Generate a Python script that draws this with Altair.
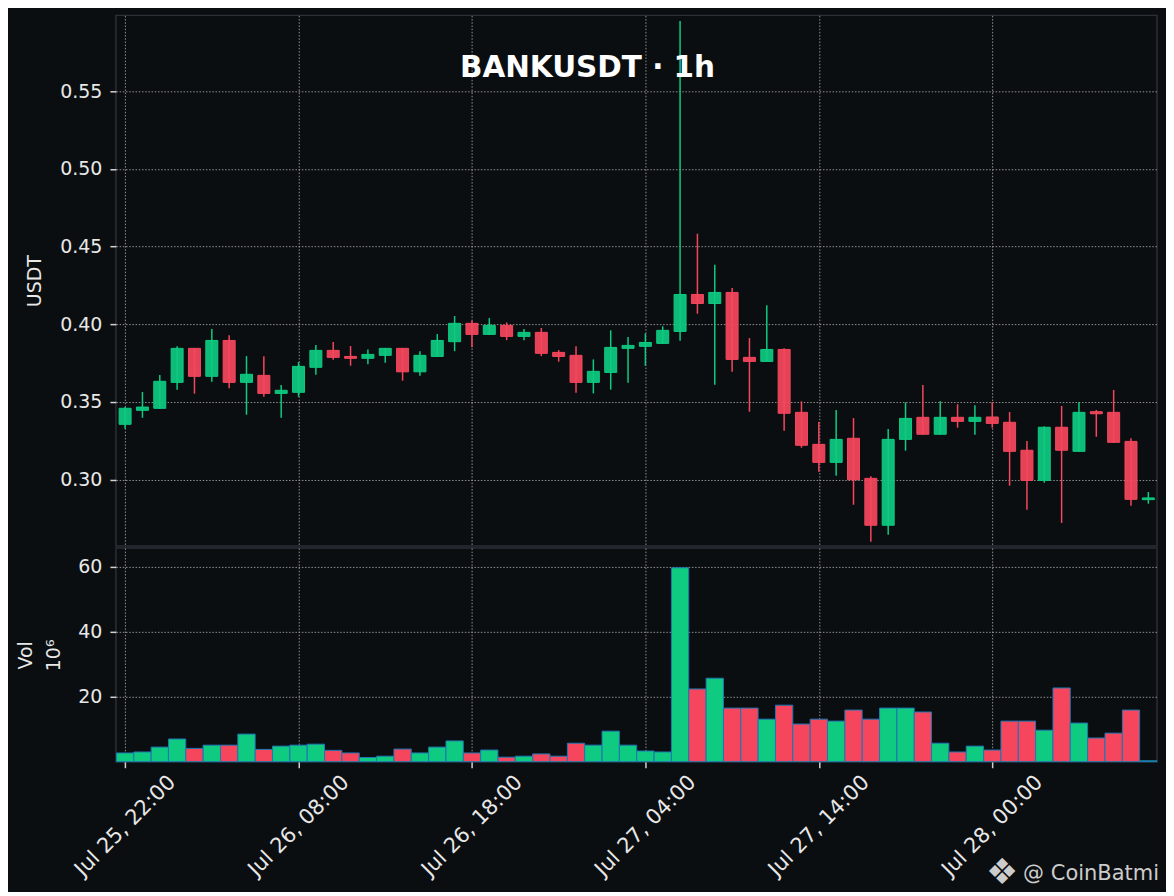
import altair as alt
import pandas as pd

TITLE = "BANKUSDT · 1h"
START = "2025-07-25 22:00"
TICK_LABEL_TIMES = ["2025-07-25 22:00", "2025-07-26 08:00", "2025-07-26 18:00",
                    "2025-07-27 04:00", "2025-07-27 14:00", "2025-07-28 00:00"]
PRICE_TICKS = [0.30, 0.35, 0.40, 0.45, 0.50, 0.55]
VOL_TICKS = [20, 40, 60]

opens = [0.3356, 0.3446, 0.3459, 0.3626, 0.3845, 0.3665, 0.3896, 0.3626, 0.3671, 0.3555,
         0.3562, 0.3723, 0.3832, 0.3793, 0.3781, 0.3800, 0.3845, 0.3694, 0.3793, 0.3888,
         0.4006, 0.3935, 0.3993, 0.3922, 0.3948, 0.3819, 0.3800, 0.3626, 0.3690, 0.3845,
         0.3858, 0.3877, 0.3954, 0.4192, 0.4134, 0.4205, 0.3787, 0.3761, 0.3838, 0.3433,
         0.3227, 0.3111, 0.3266, 0.3008, 0.2706, 0.3259, 0.3401, 0.3292, 0.3401, 0.3375,
         0.3403, 0.3369, 0.3189, 0.2995, 0.3337, 0.3182, 0.3437, 0.3433, 0.3246, 0.2871]
closes = [0.3459, 0.3467, 0.3633, 0.3845, 0.3665, 0.3896, 0.3626, 0.3678, 0.3555, 0.3575,
          0.3729, 0.3832, 0.3787, 0.3781, 0.3806, 0.3845, 0.3694, 0.3800, 0.3896, 0.4006,
          0.3935, 0.3993, 0.3922, 0.3948, 0.3813, 0.3793, 0.3626, 0.3697, 0.3851, 0.3864,
          0.3883, 0.3961, 0.4192, 0.4134, 0.4205, 0.3774, 0.3761, 0.3838, 0.3427, 0.3221,
          0.3111, 0.3259, 0.2999, 0.2706, 0.3259, 0.3394, 0.3292, 0.3401, 0.3375, 0.3401,
          0.3362, 0.3182, 0.2995, 0.3337, 0.3189, 0.3433, 0.3424, 0.3240, 0.2873, 0.2882]
highs = [0.3467, 0.3564, 0.3673, 0.3858, 0.3848, 0.3969, 0.3930, 0.3795, 0.3795, 0.3609,
         0.3757, 0.3866, 0.3886, 0.3860, 0.3838, 0.3848, 0.3848, 0.3826, 0.3937, 0.4053,
         0.4025, 0.4040, 0.4012, 0.3969, 0.3976, 0.3834, 0.3858, 0.3774, 0.3961, 0.3918,
         0.3941, 0.3987, 0.5953, 0.4583, 0.4384, 0.4233, 0.3911, 0.4123, 0.3846, 0.3504,
         0.3371, 0.3448, 0.3396, 0.3021, 0.3326, 0.3497, 0.3609, 0.3504, 0.3485, 0.3478,
         0.3499, 0.3435, 0.3248, 0.3343, 0.3474, 0.3499, 0.3448, 0.3577, 0.3266, 0.2920]
lows = [0.3328, 0.3398, 0.3455, 0.3579, 0.3553, 0.3630, 0.3588, 0.3418, 0.3533, 0.3398,
        0.3533, 0.3675, 0.3772, 0.3733, 0.3742, 0.3752, 0.3637, 0.3669, 0.3790, 0.3827,
        0.3852, 0.3932, 0.3898, 0.3898, 0.3795, 0.3759, 0.3559, 0.3555, 0.3579, 0.3624,
        0.3733, 0.3875, 0.3894, 0.4068, 0.3611, 0.3694, 0.3437, 0.3758, 0.3315, 0.3205,
        0.3051, 0.3025, 0.2838, 0.2600, 0.2645, 0.3186, 0.3290, 0.3290, 0.3334, 0.3289,
        0.3334, 0.2961, 0.2806, 0.2980, 0.2721, 0.3180, 0.3276, 0.3237, 0.2832, 0.2845]
volumes = [2.7, 3.0, 4.5, 7.0, 4.1, 5.1, 5.1, 8.5, 3.8, 4.8,
           5.1, 5.4, 3.5, 2.7, 1.3, 1.7, 3.9, 2.7, 4.5, 6.4,
           2.7, 3.6, 1.4, 1.7, 2.4, 1.7, 5.7, 5.1, 9.4, 5.1,
           3.3, 3.0, 59.7, 22.4, 25.7, 16.5, 16.5, 13.1, 17.4, 11.6,
           13.1, 12.5, 15.9, 13.1, 16.5, 16.5, 15.3, 5.7, 3.0, 4.8,
           3.6, 12.5, 12.5, 9.7, 22.7, 11.9, 7.3, 8.8, 15.9, 0.3]

UP, DOWN = "#0ecb81", "#f6465d"
BG = "#0b0e11"
TXT = "#e8e8e8"


def to_ms(ts):
    return int(pd.Timestamp(ts, tz="UTC").value // 10**6)


times = pd.date_range(START, periods=len(opens), freq="h", tz="UTC")
df = pd.DataFrame({
    "t": [int(t.value // 10**6) for t in times],
    "open": opens, "close": closes, "high": highs, "low": lows, "vol": volumes,
})
df["dir"] = ["up" if c >= o else "down" for o, c in zip(opens, closes)]
df["body_lo"] = df[["open", "close"]].min(axis=1)
df["body_hi"] = df[["open", "close"]].max(axis=1)

tick_vals = [to_ms(s) for s in TICK_LABEL_TIMES]
hour = 3600 * 1000
x_domain = [int(df["t"].iloc[0] - 0.53 * hour), int(df["t"].iloc[-1] + 0.5 * hour)]
xscale = alt.Scale(type="utc", domain=x_domain, nice=False, padding=0)
color = alt.Color("dir:N", scale=alt.Scale(domain=["up", "down"], range=[UP, DOWN]), legend=None)
stroke = alt.Stroke("dir:N", scale=alt.Scale(domain=["up", "down"], range=[UP, DOWN]), legend=None)

W = 1042
H_TOP = 531
H_BOT = 214

x_top_axis = alt.Axis(values=tick_vals, labels=False, ticks=False, domain=False, title=None, grid=True)
x_bot_axis = alt.Axis(values=tick_vals, format="%b %d, %H:%M", title=None, grid=True,
                      labelAngle=-45, labelAlign="center", labelBaseline="middle",
                      labelPadding=58, labelFontSize=21, tickSize=6, labelOverlap=False,
                      labelBound=False, labelFlush=False)

base = alt.Chart(df).encode(x=alt.X("t:T", scale=xscale, axis=x_top_axis))
yscale = alt.Scale(domain=[0.2573, 0.5989], nice=False, zero=False)
yaxis = alt.Axis(values=PRICE_TICKS, format=".2f", title="USDT", minExtent=60, maxExtent=60,
                 titlePadding=11)

wicks = base.mark_rule(strokeWidth=1.5).encode(
    y=alt.Y("low:Q", scale=yscale, axis=yaxis), y2="high:Q", color=color)
bodies = base.mark_bar(size=12, strokeWidth=1, fillOpacity=0.92).encode(
    y=alt.Y("body_lo:Q", scale=yscale, axis=yaxis), y2="body_hi:Q", color=color, stroke=stroke)
title_mark = alt.Chart(pd.DataFrame({"label": [TITLE]})).mark_text(
    fontSize=29.5, fontWeight="bold", color="#ffffff", align="center", baseline="alphabetic"
).encode(text="label:N", x=alt.value(472), y=alt.value(62))

upper = alt.layer(wicks, bodies, title_mark).properties(width=W, height=H_TOP)

vaxis = alt.Axis(values=VOL_TICKS, format="d", title=["Vol", "10⁶"], titleLineHeight=28,
                 minExtent=40, maxExtent=40, titlePadding=12)
vol_bars = alt.Chart(df).mark_bar(size=17.3, stroke="#1f77b4", strokeWidth=1).encode(
    x=alt.X("t:T", scale=xscale, axis=x_bot_axis),
    y=alt.Y("vol:Q", scale=alt.Scale(domain=[0, 65.8], nice=False), axis=vaxis),
    color=color,
)
wm = pd.DataFrame({"icon": ["❖"], "label": ["@ CoinBatmi"]})
wm_icon = alt.Chart(wm).mark_text(fontSize=36, color="#cccccc", align="center", baseline="middle").encode(
    text="icon:N", x=alt.value(887), y=alt.value(325))
wm_text = alt.Chart(wm).mark_text(fontSize=21, color="#cccccc", align="left", baseline="alphabetic").encode(
    text="label:N", x=alt.value(908), y=alt.value(332))

lower = alt.layer(vol_bars, wm_icon, wm_text).properties(width=W, height=H_BOT)

chart = alt.vconcat(upper, lower, spacing=0).properties(
    background=BG,
    padding={"left": 8, "top": 6, "right": 6, "bottom": 0},
).configure_view(
    stroke="#2b2f36", strokeWidth=1.5
).configure_axis(
    labelFont="DejaVu Sans", titleFont="DejaVu Sans",
    labelFontSize=19, titleFontSize=19, labelColor=TXT, titleColor=TXT,
    titleFontWeight="normal", tickColor="#d0d0d0", tickSize=6, tickWidth=1.5,
    labelPadding=8, domain=False,
    gridColor="#a8a8a8", gridDash=[1.5, 1.7], gridOpacity=0.85, gridWidth=1,
).configure_text(font="DejaVu Sans")

chart.save("out.html", embed_options={"renderer": "svg", "actions": False})
